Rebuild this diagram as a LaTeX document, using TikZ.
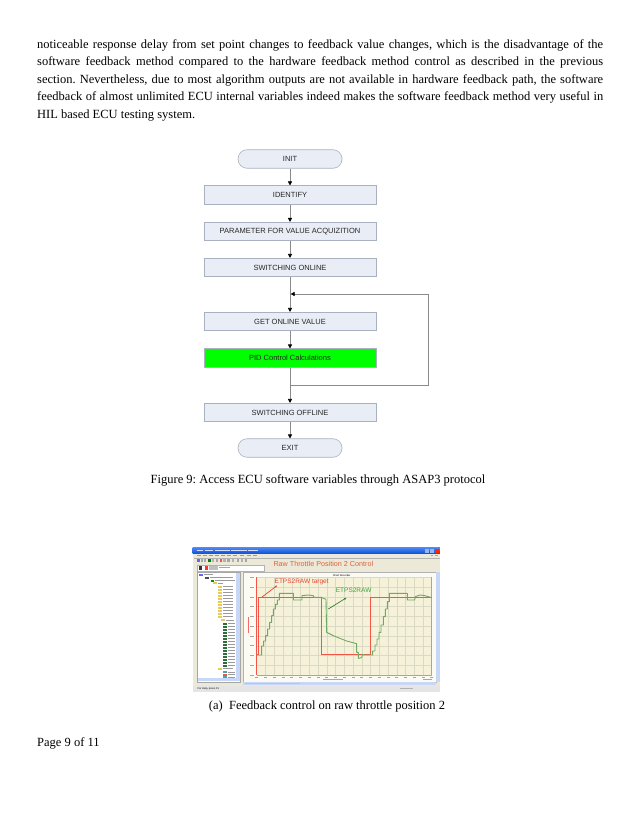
\documentclass[tikz,border=0pt]{standalone}
\usepackage{fontspec}
\setmainfont{Liberation Serif}
\setsansfont{Liberation Sans}
\usetikzlibrary{arrows.meta}
\frenchspacing
\definecolor{boxfill}{HTML}{E9EEF6}
\definecolor{boxline}{HTML}{A9B1C0}
\definecolor{boxtext}{HTML}{262626}
\definecolor{linegray}{HTML}{8A8A8A}
\definecolor{pidgreen}{HTML}{00FF00}
\definecolor{xpgray}{HTML}{ECE9D8}
\definecolor{xpblue}{HTML}{0A4FD8}
\definecolor{xplight}{HTML}{4A86F2}
\definecolor{scrollblue}{HTML}{C6D7F7}
\definecolor{plotbg}{HTML}{F6F2DA}
\definecolor{chartbg}{HTML}{FBFAF3}
\definecolor{gridc}{HTML}{DAD9C4}
\definecolor{tracered}{RGB}{245,85,70}
\definecolor{tracegreen}{RGB}{110,170,100}
\definecolor{labred}{HTML}{E2452E}
\definecolor{labgreen}{HTML}{3FA03F}
\definecolor{titleorange}{HTML}{E0603A}
\definecolor{folder}{HTML}{E6CC5A}
\definecolor{icongreen}{HTML}{2E6E3A}
\definecolor{treetext}{HTML}{9A9A9A}
\begin{document}
\begin{tikzpicture}[x=1pt,y=-1pt,
  bodytext/.style={anchor=base west, inner sep=0pt, font=\fontsize{12.5}{15}\selectfont},
  captext/.style={anchor=base, inner sep=0pt, font=\fontsize{12.5}{15}\selectfont},
  fc/.style={draw=boxline, line width=0.6pt, fill=boxfill, minimum width=172pt, minimum height=18.5pt, inner sep=0pt, font=\sffamily\fontsize{7.5}{8}\selectfont, text=boxtext},
  term/.style={fc, rounded corners=9pt, minimum width=104pt},
  flow/.style={draw=linegray, line width=0.6pt, -{Triangle[length=4pt,width=4pt,color=black]}},
  tinytext/.style={inner sep=0pt, font=\sffamily\fontsize{2.6}{3}\selectfont},
  shotlabel/.style={inner sep=0pt, font=\sffamily\fontsize{6.5}{7}\selectfont},
]
\useasboundingbox[fill=white] (0,0) rectangle (638,826);

% ---------------- paragraph ----------------
\node[bodytext] (l1) at (37,48.5) {\makebox[566pt][s]{noticeable response delay from set point changes to feedback value changes, which is the disadvantage of the}};
\node[bodytext] (l2) at (37,66) {\makebox[566pt][s]{software feedback method compared to the hardware feedback method control as described in the previous}};
\node[bodytext] (l3) at (37,83.5) {\makebox[566pt][s]{section. Nevertheless, due to most algorithm outputs are not available in hardware feedback path, the software}};
\node[bodytext] (l4) at (37,101) {\makebox[566pt][s]{feedback of almost unlimited ECU internal variables indeed makes the software feedback method very useful in}};
\node[bodytext] (l5) at (37,118.5) {HIL based ECU testing system.};

% ---------------- flowchart ----------------
\node[term] (init) at (290,159) {INIT};
\node[fc] (ident) at (290,195) {IDENTIFY};
\node[fc] (param) at (290,231.5) {PARAMETER FOR VALUE ACQUIZITION};
\node[fc] (swon) at (290,267.5) {SWITCHING ONLINE};
\node[fc] (getv) at (290,321.5) {GET ONLINE VALUE};
\node[fc, fill=pidgreen] (pid) at (290,358) {PID Control Calculations};
\node[fc] (swoff) at (290,412.5) {SWITCHING OFFLINE};
\node[term] (exit) at (290,448) {EXIT};

\coordinate (lb) at (290,385);
\coordinate (lbr) at (428,385);
\coordinate (ltr) at (428,294);
\coordinate (lj) at (290.6,294);

\draw[flow] (init) -- (ident);
\draw[flow] (ident) -- (param);
\draw[flow] (param) -- (swon);
\draw[flow] (swon) -- (getv);
\draw[flow] (getv) -- (pid);
\draw[flow] (pid) -- (swoff);
\draw[flow] (swoff) -- (exit);
\draw[flow] (lb) -- (lbr) -- (ltr) -- (lj);

\node[captext] (cap9) at (318,483) {Figure 9: Access ECU software variables through ASAP3 protocol};

% ---------------- screenshot ----------------
\begin{scope}[shift={(190,545)}, x=0.3333pt, y=-0.3333pt]
  % window
  \fill[xpgray] (8,8) rectangle (750,441);
  \shade[top color=xplight, bottom color=xpblue] (8,8) rectangle (750,26);
  \foreach \a/\b in {22/40, 44/70, 74/120, 124/170, 174/205} \fill[white!85!blue] (\a,15) rectangle (\b,19);
  \fill[xplight!60!white] (705,11) rectangle (718,23);
  \fill[xplight!60!white] (720,11) rectangle (733,23);
  \fill[red!70!orange] (735,11) rectangle (748,23);
  % menu bar
  \foreach \a in {22,40,58,76,94,112,130,150,170,190} \fill[gray!80] (\a,30) rectangle ({\a+12},33);
  \foreach \a in {722,736} \fill[gray!70] (\a,29) rectangle ({\a+8},34);
  % toolbar
  \fill[gray!60] (12,38) rectangle (750,39);
  \foreach \a/\c in {22/blue!60,32/gray!70,42/gray!70,55/green!50!black,65/gray!60,78/gray!70,90/red!70,100/gray!60,112/gray!70,125/gray!60,140/gray!70,152/gray!60,165/gray!70} \fill[\c] (\a,43) rectangle ({\a+7},52);
  \fill[white] (22,60) rectangle (222,78);
  \draw[gray!60, line width=0.2pt] (22,60) rectangle (222,78);
  \fill[black!80] (27,63) rectangle (36,74);
  \fill[red!80] (44,63) rectangle (53,74);
  \fill[gray!50] (58,63) rectangle (85,74);
  \fill[gray!70] (88,67) rectangle (120,70);
  \node[shotlabel, text=titleorange, font=\sffamily\fontsize{7.2}{7}\selectfont] (mtitle) at (400,57) {Raw Throttle Position 2 Control};
  % left tree panel
  \fill[white] (22,82) rectangle (150,410);
  \draw[gray!70, line width=0.3pt] (22,82) rectangle (150,410);
  \fill[scrollblue] (139,84) rectangle (149,400);
  \fill[scrollblue] (23,400) rectangle (149,409);
  \fill[blue!60] (28,86) rectangle (38,93);
  \fill[treetext] (41,88) rectangle (70,91);
  \fill[black!70] (45,95) rectangle (56,102);
  \fill[treetext] (59,97) rectangle (128,100);
  \fill[green!60!black] (62,104) rectangle (73,110);
  \fill[treetext] (76,106) rectangle (135,109);
  \fill[folder] (70,112) rectangle (82,118);
  \fill[treetext] (85,114) rectangle (100,117);
  \foreach \i in {0,...,10} {
    \fill[folder] (83,{122+\i*9}) rectangle (95,{128+\i*9});
    \fill[treetext] (99,{124+\i*9}) rectangle (130,{127+\i*9});
  }
  \fill[folder] (92,222) rectangle (104,228);
  \fill[treetext] (107,224) rectangle (133,227);
  \foreach \i in {0,...,14} {
    \fill[icongreen] (100,{233+\i*9}) rectangle (112,{239+\i*9});
    \fill[treetext] (115,{235+\i*9}) rectangle (135,{238+\i*9});
  }
  \fill[folder] (83,368) rectangle (95,374);
  \fill[treetext] (99,370) rectangle (130,373);
  \foreach \i/\c in {0/teal!70,1/red!70,2/teal!70} {
    \fill[\c] (100,{378+\i*8}) rectangle (112,{384+\i*8});
    \fill[treetext] (115,{380+\i*8}) rectangle (135,{383+\i*8});
  }
  % chart panel
  \fill[chartbg] (158,82) rectangle (738,412);
  \draw[gray!60, line width=0.3pt] (158,82) rectangle (738,412);
  \node[tinytext] (ctitle) at (455,91) {Chart Recorder};
  \fill[plotbg] (200,97) rectangle (725,390);
  \foreach \i in {1,...,19} \draw[gridc, line width=0.3pt] ({200+\i*26.25},97) -- ({200+\i*26.25},390);
  \foreach \j in {0,...,9} \draw[gridc, line width=0.3pt] (200,{97+\j*29.3}) -- (725,{97+\j*29.3});
  \draw[gray!70, line width=0.4pt] (200,390) -- (725,390);
  \draw[gray!70, line width=0.4pt] (725,97) -- (725,390);
  \foreach \j in {0,...,10} \fill[gray!70] (180,{96+\j*29.3}) rectangle (191,{98.5+\j*29.3});
  \foreach \i in {0,...,20} \fill[gray!70] ({196+\i*26.25},395) rectangle ({205+\i*26.25},397.5);
  \fill[gray!70] (400,403) rectangle (460,405.5);
  \fill[gray!70] (700,403) rectangle (725,405.5);
  \fill[red!60] (173,215) rectangle (176,265);
  % traces
  \draw[draw=tracered, line width=0.9pt] (200,97) -- (200,390);
  \draw[draw=tracered, line width=1pt] (200,330) -- (207,330) -- (207,157) -- (395,157) -- (395,330) -- (543,330) -- (543,157) -- (725,157);
  \draw[draw=tracegreen, line width=0.9pt, line join=round]
    (200,330) -- (215,330) -- (215,303) -- (221,303) -- (221,288) -- (227,288) -- (227,272) -- (233,272) -- (233,252) -- (239,252) -- (239,232) -- (245,232) -- (245,212) -- (250,212) -- (250,192) -- (256,192) -- (256,178) -- (262,178) -- (262,165) -- (268,165) -- (268,145) -- (310,145) -- (310,165) -- (336,165) -- (336,152) -- (355,150) -- (370,152) -- (372,157) -- (395,157) -- (405,162) -- (408,162) -- (410,262) -- (430,272) -- (470,288) -- (500,296) -- (500,322) -- (505,322) -- (505,340) -- (515,338) -- (518,328) -- (523,330) -- (548,330) -- (548,318) -- (555,318) -- (555,300) -- (561,300) -- (561,282) -- (567,282) -- (567,262) -- (573,262) -- (573,240) -- (580,240) -- (580,215) -- (586,215) -- (586,192) -- (592,192) -- (592,170) -- (598,170) -- (598,145) -- (652,145) -- (652,165) -- (674,165) -- (676,155) -- (690,150) -- (705,152) -- (725,158);
  % labels
  \node[shotlabel, text=labred] (ltarget) at (335,110) {ETPS2RAW target};
  \node[shotlabel, text=labgreen] (lactual) at (491,135) {ETPS2RAW};
  \coordinate (rtail) at (215,157);
  \coordinate (rhead) at (262,121);
  \coordinate (gtail) at (415,192);
  \coordinate (ghead) at (470,158);
  \draw[draw=labred, line width=0.7pt, -{Latex[length=2.5pt,width=2.2pt]}] (rtail) -- (rhead);
  \draw[draw=labgreen!80!black, line width=0.7pt, -{Latex[length=2.5pt,width=2.2pt]}] (gtail) -- (ghead);
  % scrollbars
  \fill[scrollblue] (739,82) rectangle (750,412);
  \fill[scrollblue] (158,412) rectangle (738,419);
  \fill[blue!25] (165,413) rectangle (330,418);
  % status bar
  \fill[gray!20] (8,422) rectangle (750,441);
  \node[tinytext, anchor=west] (status) at (22,431) {For Help, press F1};
  \fill[gray!60] (630,430) rectangle (670,433);
\end{scope}

\node[captext] (capa) at (327,709) {(a)\enspace Feedback control on raw throttle position 2};
\node[bodytext] (page) at (37,746) {Page 9 of 11};
\end{tikzpicture}
\end{document}
